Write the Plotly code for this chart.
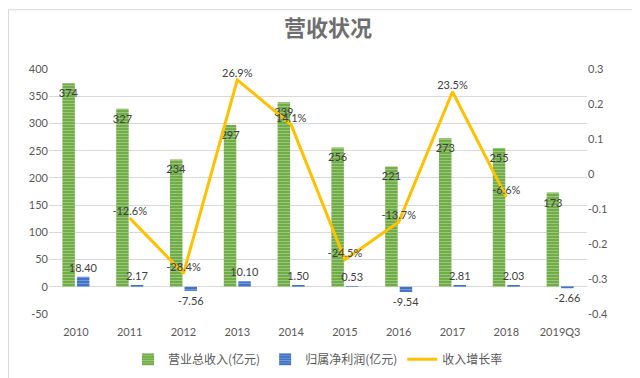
import plotly.graph_objects as go

categories = ["2010", "2011", "2012", "2013", "2014", "2015", "2016", "2017", "2018", "2019Q3"]
revenue = [374, 327, 234, 297, 339, 256, 221, 273, 255, 173]
net_profit = [18.40, 2.17, -7.56, 10.10, 1.50, 0.53, -9.54, 2.81, 2.03, -2.66]
growth_cats = ["2011", "2012", "2013", "2014", "2015", "2016", "2017", "2018"]
growth = [-0.126, -0.284, 0.269, 0.141, -0.245, -0.137, 0.235, -0.066]
left_ticks = [-50, 0, 50, 100, 150, 200, 250, 300, 350, 400]
right_ticks = [-0.4, -0.3, -0.2, -0.1, 0, 0.1, 0.2, 0.3]
right_ticktext = ["-0.4", "-0.3", "-0.2", "-0.1", "0", "0.1", "0.2", "0.3"]
left_ticktext = ["-50", "0", "50", "100", "150", "200", "250", "300", "350", "400"]

FONT = "Lato, 'Noto Sans CJK SC', sans-serif"
TXT = "#404040"

fig = go.Figure()
fig.add_trace(go.Bar(
    x=categories, y=revenue, name="营业总收入(亿元)",
    marker=dict(color="#70AD47", line=dict(width=0),
                pattern=dict(shape="-", fgcolor="#C5E0B4", bgcolor="#70AD47",
                             size=3, solidity=0.35, fillmode="overlay")),
    text=[str(v) for v in revenue], textposition="inside", insidetextanchor="end",
    constraintext="none", textangle=0,
    textfont=dict(color=TXT, size=11, family=FONT),
))
fig.add_trace(go.Bar(
    x=categories, y=net_profit, name="归属净利润(亿元)",
    marker=dict(color="#4472C4", line=dict(width=0),
                pattern=dict(shape="-", fgcolor="#9DC3E6", bgcolor="#4472C4",
                             size=3, solidity=0.35, fillmode="overlay")),
    text=[f"{v:.2f}" for v in net_profit], textposition="outside",
    constraintext="none", textangle=0, cliponaxis=False,
    textfont=dict(color=TXT, size=11, family=FONT),
))
fig.add_trace(go.Scatter(
    x=growth_cats, y=growth, name="收入增长率", yaxis="y2",
    mode="lines+text", line=dict(color="#FFC000", width=3),
    text=[f"{v*100:.1f}%" for v in growth], textposition="top center",
    textfont=dict(color=TXT, size=11, family=FONT), cliponaxis=False,
))

fig.update_layout(
    width=640, height=378,
    paper_bgcolor="white", plot_bgcolor="white",
    margin=dict(l=41, r=61, t=61, b=67),
    font=dict(family=FONT, color="#595959", size=11),
    title=dict(text="<b>营收状况</b>", x=0.5, xanchor="center", y=0.945, yanchor="middle",
               font=dict(size=22, color="#6E6E6E", family="'Noto Sans CJK SC', sans-serif")),
    barmode="group", bargap=0.46, bargroupgap=0.14,
    showlegend=True,
    legend=dict(orientation="h", x=0.5, xanchor="center", y=-0.185, yanchor="middle",
                font=dict(size=12, color="#595959", family="'Noto Sans CJK SC', sans-serif"),
                itemwidth=30, traceorder="normal"),
    xaxis=dict(type="category", showgrid=False, showline=False, ticks="",
               ticklabelstandoff=10,
               tickfont=dict(size=11, color="#595959")),
    yaxis=dict(range=[-50, 400], tickvals=left_ticks, ticktext=left_ticktext,
               showgrid=True, gridcolor="#D9D9D9", gridwidth=1,
               zeroline=True, zerolinecolor="#D9D9D9", zerolinewidth=1,
               showline=False, ticks="", tickfont=dict(size=11, color="#595959")),
    yaxis2=dict(range=[-0.4, 0.3], overlaying="y", side="right",
                tickvals=right_ticks, ticktext=right_ticktext,
                showgrid=False, zeroline=False, showline=False, ticks="",
                tickfont=dict(size=11, color="#595959")),
    shapes=[dict(type="rect", xref="paper", yref="paper",
                 x0=-40.5/538, x1=1+60.5/538, y0=-66.5/250, y1=1+60.5/250,
                 line=dict(color="#D9D9D9", width=1), fillcolor="rgba(0,0,0,0)", layer="below")],
)

fig.write_html("out.html")
